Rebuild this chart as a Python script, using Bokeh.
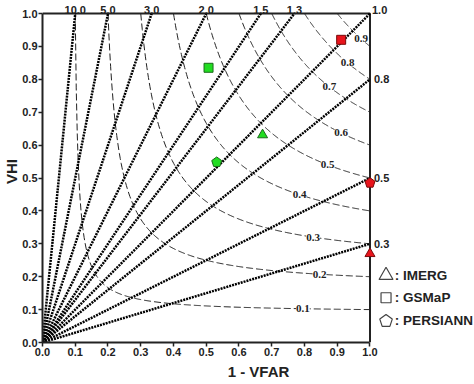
import numpy as np
from bokeh.plotting import figure
from bokeh.models import ColumnDataSource, LabelSet, FixedTicker, Title
from bokeh.core.properties import value
from bokeh.embed import file_html
from bokeh.resources import INLINE

# ---------------- data ----------------
bias_levels = [10.0, 5.0, 3.0, 2.0, 1.5, 1.3, 1.0, 0.8, 0.5, 0.3]
csi_levels = [0.1, 0.2, 0.3, 0.4, 0.5, 0.6, 0.7, 0.8, 0.9]
csi_label_sr = [0.795, 0.846, 0.826, 0.785, 0.871, 0.912, 0.876, 0.932, 0.973]
tick_values = [0.0, 0.1, 0.2, 0.3, 0.4, 0.5, 0.6, 0.7, 0.8, 0.9, 1.0]

products = ["IMERG", "GSMaP", "PERSIANN"]
green_sr = [0.672, 0.507, 0.532]
green_pod = [0.631, 0.835, 0.548]
red_sr = [1.0, 0.912, 1.0]
red_pod = [0.270, 0.920, 0.485]

FONT = "Liberation Sans"
INK = "#222222"

# frame: left 40 px, bottom 42 px; diagram square spans 329 px (0..1)
p = figure(width=474, height=384, x_range=(0, 1 + 105 / 329), y_range=(0, 1 + 13 / 329),
           output_backend="svg", toolbar_location=None,
           min_border_left=40, min_border_right=0,
           min_border_top=0, min_border_bottom=42)
p.title.visible = False
p.grid.visible = False
p.outline_line_color = None
p.background_fill_color = "white"

for ax in (p.xaxis[0], p.yaxis[0]):
    ax.ticker = FixedTicker(ticks=tick_values)
    ax.bounds = (0, 1)
    ax.major_label_text_font = FONT
    ax.major_label_text_font_style = "bold"
    ax.major_label_text_font_size = "11px"
    ax.major_label_text_color = INK
    ax.axis_line_width = 2
    ax.axis_line_color = INK
    ax.major_tick_line_color = INK
    ax.major_tick_line_width = 1.5
    ax.major_tick_out = 4
    ax.major_tick_in = 0
    ax.minor_tick_line_color = None
    ax.major_label_standoff = 1
p.xaxis[0].major_label_overrides = {v: f"{v:.1f}" for v in tick_values}
p.yaxis[0].major_label_overrides = {v: f"{v:.1f}" for v in tick_values}

# axis titles
p.add_layout(Title(text="1 - VFAR", align="center", offset=-52, standoff=4,
                   text_font=FONT, text_font_style="bold", text_font_size="15px",
                   text_color=INK), "below")
p.add_layout(Title(text="VHI", align="center", offset=3, standoff=0,
                   text_font=FONT, text_font_style="bold", text_font_size="15px",
                   text_color=INK), "left")

# top and right border of the diagram
p.line([0, 1, 1], [1, 1, 0], line_color=INK, line_width=2)

# CSI dashed curves
for c in csi_levels:
    sr = np.linspace(c, 1.0, 300)
    pod = 1.0 / (1.0 / c + 1.0 - 1.0 / sr)
    p.line(sr, pod, line_color=INK, line_width=1, line_dash="7 3")

# bias dotted lines
for b in bias_levels:
    x_end = min(1.0, 1.0 / b)
    y_end = min(1.0, b)
    p.line([0, x_end], [0, y_end], line_color="black", line_width=2.5,
           line_dash="2 1")

# CSI labels
csi_y = [1.0 / (1.0 / c + 1.0 - 1.0 / s) for c, s in zip(csi_levels, csi_label_sr)]
csi_src = ColumnDataSource(dict(x=csi_label_sr, y=csi_y,
                                t=[f"{c:.1f}" for c in csi_levels]))
p.add_layout(LabelSet(x="x", y="y", text="t", source=csi_src,
                      text_align="center", text_baseline="middle",
                      text_font=FONT, text_font_style="bold",
                      text_font_size="11px", text_color=INK,
                      background_fill_color="white"))

# bias labels: top (bias > 1), corner (bias = 1), right (bias < 1)
top_b = [b for b in bias_levels if b > 1]
p.text(x=[1.0 / b for b in top_b], y=[1.0] * len(top_b),
       text=[f"{b:.1f}" for b in top_b], text_align="center",
       text_baseline="bottom", text_font=value(FONT), text_font_style="bold",
       text_font_size="11px", text_color=INK)
one_b = [b for b in bias_levels if b == 1]
p.text(x=[1.0] * len(one_b), y=[1.0] * len(one_b), text=[f"{b:.1f}" for b in one_b],
       x_offset=2, text_align="left", text_baseline="bottom",
       text_font=value(FONT), text_font_style="bold", text_font_size="11px",
       text_color=INK)
right_b = [b for b in bias_levels if b < 1]
p.text(x=[1.0] * len(right_b), y=right_b, text=[f"{b:.1f}" for b in right_b],
       x_offset=4, text_align="left", text_baseline="middle",
       text_font=value(FONT), text_font_style="bold", text_font_size="11px",
       text_color=INK)

# markers
GREEN, GREEN_LINE = "#22dd22", "#1a6a1a"
RED, RED_LINE = "#e8141c", "#7a0a0a"
shape = {"IMERG": ("triangle", 10), "GSMaP": ("square", 9)}


def pentagon(cx, cy, r):
    ang = np.pi / 2 + np.arange(5) * 2 * np.pi / 5
    return list(cx + r * np.cos(ang)), list(cy + r * np.sin(ang))


for i, name in enumerate(products):
    for sr, pod, fc, lc in ((green_sr[i], green_pod[i], GREEN, GREEN_LINE),
                            (red_sr[i], red_pod[i], RED, RED_LINE)):
        if name in shape:
            mk, sz = shape[name]
            p.scatter([sr], [pod], marker=mk, size=sz,
                      fill_color=fc, line_color=lc, line_width=1)
        else:
            xs, ys = pentagon(sr, pod, 0.016)
            p.patch(xs, ys, fill_color=fc, line_color=lc, line_width=1)

# legend beside the diagram
leg_y = [0.204, 0.136, 0.067]
leg_x = 1.049
for name, ly in zip(products, leg_y):
    if name == "IMERG":
        p.scatter([leg_x], [ly], marker="triangle", size=14, fill_color="white",
                  line_color="#444444", line_width=1.2)
    elif name == "GSMaP":
        p.scatter([leg_x], [ly], marker="square", size=10, fill_color="white",
                  line_color="#444444", line_width=1.2)
    else:
        xs, ys = pentagon(leg_x, ly - 0.002, 0.02)
        p.patch(xs, ys, fill_color="white", line_color="#444444", line_width=1.2)
p.text(x=[leg_x + 0.027] * len(products), y=leg_y, text=[": " + n for n in products],
       text_align="left", text_baseline="middle", text_font=value(FONT),
       text_font_style="bold", text_font_size="13.5px", text_color=INK)

open("out.html", "w").write(file_html(p, INLINE))
